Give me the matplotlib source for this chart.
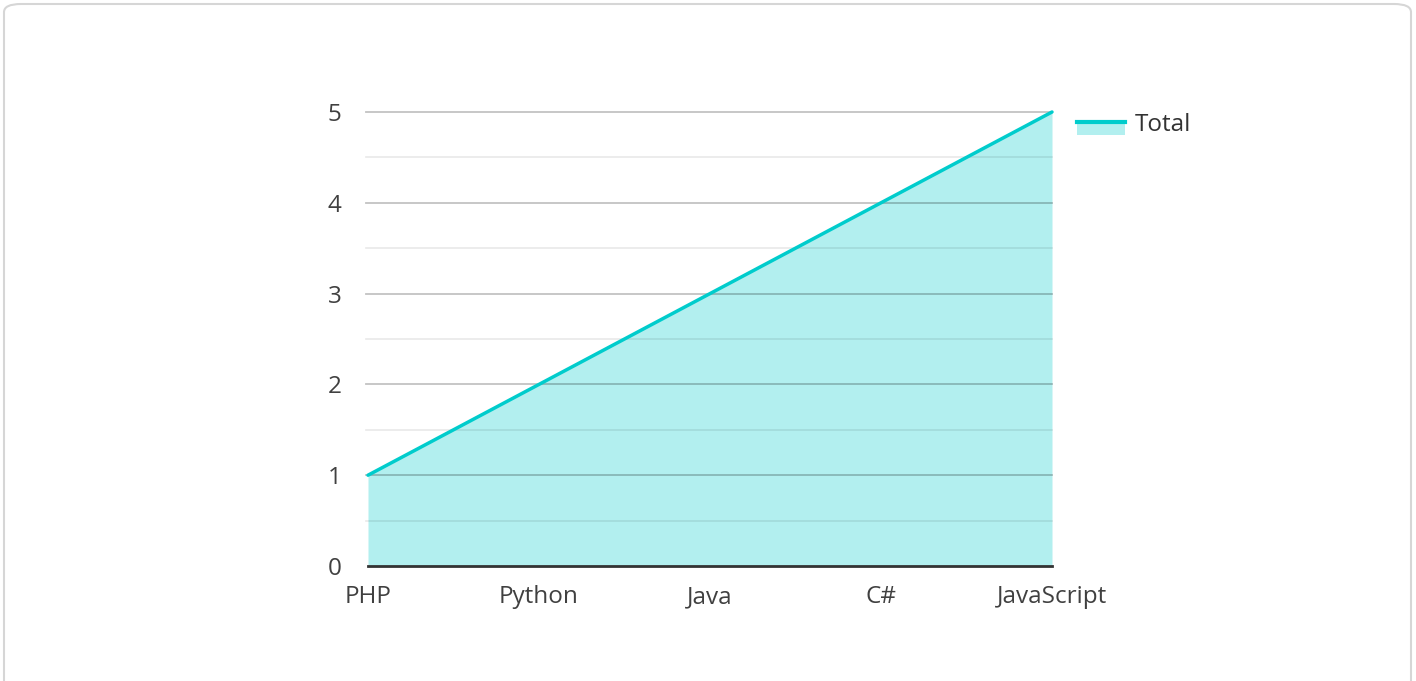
import matplotlib.pyplot as plt
from matplotlib.patches import FancyBboxPatch, Rectangle
from matplotlib.lines import Line2D

# Data
languages = ["PHP", "Python", "Java", "C#", "JavaScript"]
totals = [1, 2, 3, 4, 5]

plt.rcParams['font.family'] = ['Open Sans', 'DejaVu Sans']

W, H = 1416, 681
fig = plt.figure(figsize=(W / 100, H / 100), dpi=100)

# card border (rounded, bottom edge runs off the canvas)
card = FancyBboxPatch((4 / W, -20 / H), 1407 / W, (H - 4 + 20) / H,
                      boxstyle="round,pad=0,rounding_size=0.012",
                      transform=fig.transFigure, facecolor="white",
                      edgecolor="#d6d6d6", linewidth=1.5, zorder=-10)
fig.patches.append(card)

ax = fig.add_axes([368 / W, 1 - 566 / H, (1052 - 368) / W, (566 - 112) / H])
ax.patch.set_alpha(0)
x = range(len(languages))

ax.fill_between(x, 0, totals, color="#b2efef", linewidth=0, zorder=1)
ax.plot(x, totals, color="#00cccc", linewidth=2.5, zorder=4,
        solid_capstyle="round", clip_on=False)

# grid lines
for v in [0.5, 1.5, 2.5, 3.5, 4.5]:
    ax.axhline(v, color="#000000", alpha=0.09, linewidth=1.2, zorder=2,
               xmin=-0.003, xmax=1, clip_on=False)
for v in [1, 2, 3, 4, 5]:
    ax.axhline(v, color="#000000", alpha=0.24, linewidth=1.3, zorder=2,
               xmin=-0.003, xmax=1, clip_on=False)
ax.axhline(0, color="#333333", linewidth=2, zorder=3, clip_on=False)

ax.set_xlim(0, 4)
ax.set_ylim(0, 5)
ax.set_xticks(list(x))
ax.set_xticklabels(languages)
ax.set_yticks([0, 1, 2, 3, 4, 5])
ax.tick_params(axis="both", length=0, labelsize=17.5, colors="#404040")
ax.tick_params(axis="x", pad=14)
ax.tick_params(axis="y", pad=19)
for s in ax.spines.values():
    s.set_visible(False)

# legend
fig.patches.append(Rectangle((1077 / W, 1 - 135 / H), 48 / W, 14 / H,
                             transform=fig.transFigure, facecolor="#b2efef",
                             edgecolor="none"))
fig.lines.append(Line2D([1077 / W, 1125 / W], [1 - 122 / H, 1 - 122 / H],
                        transform=fig.transFigure, color="#00cccc",
                        linewidth=3))
fig.text(1135 / W, 1 - 125 / H, "Total", fontsize=17.5, color="#333333",
         va="center", ha="left")

fig.savefig("out.png", dpi=100)
